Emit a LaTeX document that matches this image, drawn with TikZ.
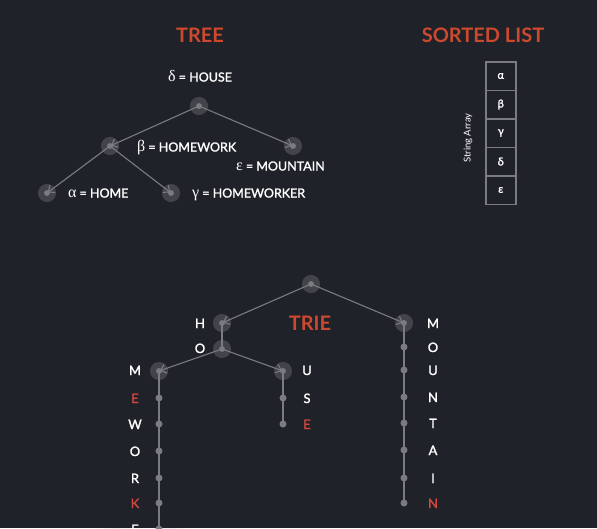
\documentclass[tikz,border=0pt]{standalone}
\usepackage{fontspec}
\setmainfont{Lato}
\newfontfamily\semi{Lato}[FakeBold=1.5]
\newfontfamily\grk{Liberation Serif}
\usepackage{xcolor}
\definecolor{bg}{RGB}{31,34,41}
\definecolor{rust}{RGB}{204,72,46}
\definecolor{edge}{RGB}{122,124,129}
\definecolor{halo}{RGB}{66,68,74}
\definecolor{keyred}{RGB}{210,72,62}
\definecolor{spot}{RGB}{90,92,98}
\definecolor{redspot}{RGB}{95,68,64}
\usetikzlibrary{matrix}
\usetikzlibrary{positioning}
\usetikzlibrary{arrows.meta}
\begin{document}
\begin{tikzpicture}[x=1pt,y=-1pt,
  every node/.style={text=white,inner sep=0pt,outer sep=0pt},
  title/.style={anchor=base,text=rust,font=\fontsize{20}{22}\selectfont\bfseries},
  lbl/.style={anchor=base west,font=\fontsize{12.5}{14}\selectfont\semi},
  chr/.style={anchor=base,font=\fontsize{13}{13}\selectfont\semi},
  big/.style={circle,fill=edge,draw=halo,line width=6pt,minimum size=12pt},
  dot/.style={circle,fill=edge,minimum size=7pt},
  link/.style={draw=edge,line width=1.1pt},
  arr/.style={link,-{Straight Barb[length=5pt,width=9pt]},shorten >=1pt}]
\fill[bg] (0,0) rectangle (597,528);
\useasboundingbox (0,0) rectangle (597,528);
% faint spots behind
\foreach \x/\y/\c in {255/219/spot,304/219/spot,255/276/spot,304/276/spot,
  118/333/spot,167/333/spot,483/333/spot,114/398/redspot,483/398/spot,
  118/462/spot,167/462/spot,483/466/redspot,118/527/spot,167/527/spot,490/83/spot}{
  \foreach \r in {3,5,...,21}
    \fill[\c,opacity=0.011] (\x,\y) circle (\r pt);
}

% tree
\node[title] (ttree) at (200,42.5) {TREE};
\node[big] (tdelta) at (199,106) {};
\node[big] (tbeta) at (110,146) {};
\node[big] (teps) at (293,146) {};
\node[big] (talpha) at (47,193) {};
\node[big] (tgamma) at (171,193) {};
\node[lbl,anchor=base] at (200,81.5) {{\grk\fontsize{16}{16}\selectfont δ} = HOUSE};
\node[lbl] at (137,151.5) {{\grk\fontsize{16}{16}\selectfont β} = HOMEWORK};
\node[lbl] at (236,170.5) {{\grk\fontsize{16}{16}\selectfont ε} = MOUNTAIN};
\node[lbl] at (68,197.5) {{\grk\fontsize{16}{16}\selectfont α} = HOME};
\node[lbl] at (192,197.5) {{\grk\fontsize{16}{16}\selectfont γ} = HOMEWORKER};
\draw[arr] (tdelta.center) -- (tbeta.center);
\draw[arr] (tdelta.center) -- (teps.center);
\draw[arr] (tbeta.center) -- (talpha.center);
\draw[arr] (tbeta.center) -- (tgamma.center);

% sorted list
\node[title] (tlist) at (483,42.5) {SORTED LIST};
\matrix (arr) [matrix of nodes,anchor=north west,row sep=-1.5pt,
  nodes={draw=edge,line width=1.5pt,minimum width=30pt,minimum height=28.5pt,
         font=\fontsize{11}{12}\selectfont\semi,text=white}] at (485,61)
{
α \\ β \\ γ \\ δ \\ ε \\
};
\node[rotate=90,font=\fontsize{9.5}{11}\selectfont] (sarr) at (468,138) {String Array};

% trie
\node[title] (ttrie) at (310,330) {TRIE};
\node[big] (r) at (311,284) {};
\node[big] (h) at (222,323) {};
\node[big] (ho) at (222,349) {};
\node[big] (hom) at (159,371) {};
\node[big] (hou) at (283,371) {};
\node[big] (m) at (404,323) {};
\draw[arr] (r.center) -- (h.center);
\draw[arr] (r.center) -- (m.center);
\draw[link] (h.center) -- (ho.center);
\draw[arr] (ho.center) -- (hom.center);
\draw[arr] (ho.center) -- (hou.center);
\node[chr] at (200,328) {H};
\node[chr] at (200,353) {O};
\node[chr] at (135,375) {M};
\node[chr] at (307,375) {U};
\node[chr] at (433,328) {M};
% left chain: homework...
\coordinate (lend) at (159,528);
\draw[link] (hom.center) -- (lend);
\foreach \y/\c/\t [count=\i] in {398/keyred/E,424/white/W,451/white/O,478/white/R,503/keyred/K,529/white/E}{
  \node[dot] (l\i) at (159,\y) {};
  \node[chr,text=\c] at (135,\y+5) {\t};
}
% house
\foreach \y/\c/\t [count=\i] in {398/white/S,424/keyred/E}{
  \node[dot] (u\i) at (283,\y) {};
  \node[chr,text=\c] at (307,\y+5) {\t};
}
\draw[link] (hou.center) -- (u2.center);
% mountain
\foreach \y/\c/\t [count=\i] in {347/white/O,370/white/U,397/white/N,423/white/T,450/white/A,478/white/I,503/keyred/N}{
  \node[dot] (m\i) at (404,\y) {};
  \node[chr,text=\c] at (433,\y+5) {\t};
}
\draw[link] (m.center) -- (m7.center);
\end{tikzpicture}
\end{document}
